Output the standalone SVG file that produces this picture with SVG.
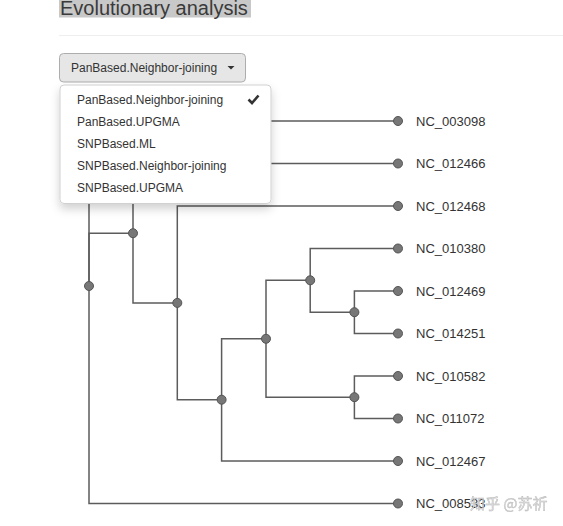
<svg xmlns="http://www.w3.org/2000/svg" width="563" height="526" viewBox="0 0 563 526">
  <style>
    .lnk { fill: none; stroke: #5c5c5c; stroke-width: 1.5; }
    .nd { fill: #777; stroke: #555; stroke-width: 1; }
    .lbl { font-family: "Liberation Sans", Arial, sans-serif; font-size: 13px; fill: #333; }
    .item { font-family: "Liberation Sans", Arial, sans-serif; font-size: 12px; fill: #333; }
  </style>
  <defs>
    <filter id="shadow" x="-20%" y="-20%" width="140%" height="150%">
      <feDropShadow dx="0" dy="5" stdDeviation="5" flood-color="#000" flood-opacity="0.18"/>
    </filter>
  </defs>
  <rect width="563" height="526" fill="#fff"/>

  <!-- header -->
  <g id="header">
    <rect x="59" y="0" width="192" height="17.5" fill="#c8c8c8"/>
    <text x="60" y="14.5" font-family="'Liberation Sans', Arial, sans-serif" font-size="20" fill="#3a3a3a">Evolutionary analysis</text>
    <line x1="59" y1="35.5" x2="563" y2="35.5" stroke="#eee" stroke-width="1"/>
  </g>

  <!-- connectors -->
  <g id="connectors">
    <!-- root (89,286) -->
    <path class="lnk" d="M89,286 V121 H398"/>
    <path class="lnk" d="M89,286 V233.2 H133"/>
    <path class="lnk" d="M89,286 V503.5 H398"/>
    <!-- node (133,233.2) -->
    <path class="lnk" d="M133,233.2 V163.5 H398"/>
    <path class="lnk" d="M133,233.2 V302.9 H177.3"/>
    <!-- node (177.3,302.9) -->
    <path class="lnk" d="M177.3,302.9 V206 H398"/>
    <path class="lnk" d="M177.3,302.9 V399.7 H221.6"/>
    <!-- node (221.6,399.7) -->
    <path class="lnk" d="M221.6,399.7 V338.8 H266"/>
    <path class="lnk" d="M221.6,399.7 V461 H398"/>
    <!-- node (266,338.8) -->
    <path class="lnk" d="M266,338.8 V280.3 H310.2"/>
    <path class="lnk" d="M266,338.8 V397.2 H354.4"/>
    <!-- node (310.2,280.3) -->
    <path class="lnk" d="M310.2,280.3 V248.5 H398"/>
    <path class="lnk" d="M310.2,280.3 V312.2 H354.4"/>
    <!-- node (354.4,312.2) -->
    <path class="lnk" d="M354.4,312.2 V291 H398"/>
    <path class="lnk" d="M354.4,312.2 V333.5 H398"/>
    <!-- node (354.4,397.2) -->
    <path class="lnk" d="M354.4,397.2 V376 H398"/>
    <path class="lnk" d="M354.4,397.2 V418.5 H398"/>
  </g>

  <!-- internal nodes -->
  <g id="n-root"><circle class="nd" cx="89" cy="286" r="4.5"/></g>
  <g id="n-a"><circle class="nd" cx="133" cy="233.2" r="4.5"/></g>
  <g id="n-b"><circle class="nd" cx="177.3" cy="302.9" r="4.5"/></g>
  <g id="n-c"><circle class="nd" cx="221.6" cy="399.7" r="4.5"/></g>
  <g id="n-d"><circle class="nd" cx="266" cy="338.8" r="4.5"/></g>
  <g id="n-e"><circle class="nd" cx="310.2" cy="280.3" r="4.5"/></g>
  <g id="n-f"><circle class="nd" cx="354.4" cy="312.2" r="4.5"/></g>
  <g id="n-g"><circle class="nd" cx="354.4" cy="397.2" r="4.5"/></g>

  <!-- leaves -->
  <g id="leaf-NC_003098"><circle class="nd" cx="398" cy="121" r="4.5"/><text class="lbl" x="416" y="125.5">NC_003098</text></g>
  <g id="leaf-NC_012466"><circle class="nd" cx="398" cy="163.5" r="4.5"/><text class="lbl" x="416" y="168">NC_012466</text></g>
  <g id="leaf-NC_012468"><circle class="nd" cx="398" cy="206" r="4.5"/><text class="lbl" x="416" y="210.5">NC_012468</text></g>
  <g id="leaf-NC_010380"><circle class="nd" cx="398" cy="248.5" r="4.5"/><text class="lbl" x="416" y="253">NC_010380</text></g>
  <g id="leaf-NC_012469"><circle class="nd" cx="398" cy="291" r="4.5"/><text class="lbl" x="416" y="295.5">NC_012469</text></g>
  <g id="leaf-NC_014251"><circle class="nd" cx="398" cy="333.5" r="4.5"/><text class="lbl" x="416" y="338">NC_014251</text></g>
  <g id="leaf-NC_010582"><circle class="nd" cx="398" cy="376" r="4.5"/><text class="lbl" x="416" y="380.5">NC_010582</text></g>
  <g id="leaf-NC_011072"><circle class="nd" cx="398" cy="418.5" r="4.5"/><text class="lbl" x="416" y="423">NC_011072</text></g>
  <g id="leaf-NC_012467"><circle class="nd" cx="398" cy="461" r="4.5"/><text class="lbl" x="416" y="465.5">NC_012467</text></g>
  <g id="leaf-NC_008533"><circle class="nd" cx="398" cy="503.5" r="4.5"/><text class="lbl" x="416" y="508">NC_008533</text></g>

  <!-- dropdown button -->
  <g id="dropdown-button">
    <rect x="59.5" y="53.5" width="186" height="28.5" rx="4" fill="#e6e6e6" stroke="#adadad" stroke-width="1"/>
    <text class="item" x="71" y="72">PanBased.Neighbor-joining</text>
    <polygon points="227.5,66 234.5,66 231,69.5" fill="#333"/>
  </g>

  <!-- dropdown menu -->
  <g id="dropdown-menu">
    <rect x="60" y="85" width="211" height="118.5" rx="4" fill="#fff" stroke="#d0d0d0" stroke-width="1" filter="url(#shadow)"/>
    <text class="item" x="77" y="104">PanBased.Neighbor-joining</text>
    <path d="M248.5,99.5 L252,103 L258.5,95.5" fill="none" stroke="#333" stroke-width="2.6" stroke-linecap="butt" stroke-linejoin="miter"/>
    <text class="item" x="77" y="126">PanBased.UPGMA</text>
    <text class="item" x="77" y="147.5">SNPBased.ML</text>
    <text class="item" x="77" y="170">SNPBased.Neighbor-joining</text>
    <text class="item" x="77" y="192">SNPBased.UPGMA</text>
  </g>

  <!-- watermark -->
  <g id="watermark">
    <text x="470" y="509" font-family="'Noto Sans CJK SC', 'Liberation Sans', sans-serif" font-size="15" fill="#d8d8d8" stroke="#b0b0b0" stroke-width="0.4" opacity="0.9">知乎 @苏祈</text>
  </g>
</svg>
